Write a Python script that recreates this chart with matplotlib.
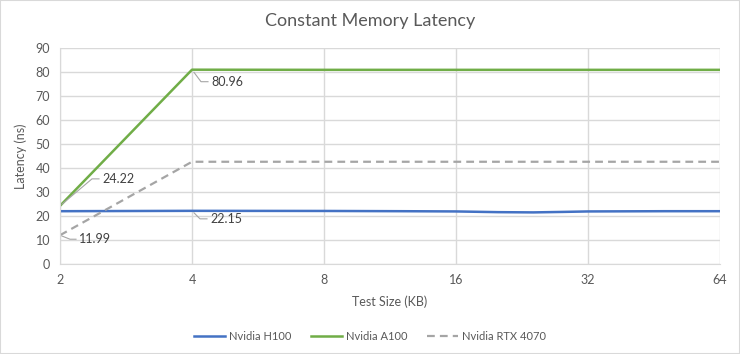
import matplotlib.pyplot as plt
from matplotlib.lines import Line2D
import numpy as np

# data (test size in KB, latency in ns)
sizes = [2, 4, 8, 12, 16, 20, 24, 28, 32, 48, 64]
h100 = [22.0, 22.15, 22.1, 22.0, 21.9, 21.6, 21.5, 21.7, 21.9, 22.0, 22.0]
a100 = [24.22, 80.96, 80.9, 80.9, 80.9, 80.9, 80.9, 80.9, 80.9, 80.9, 80.9]
rtx4070 = [11.99, 42.6, 42.6, 42.6, 42.6, 42.6, 42.6, 42.6, 42.6, 42.6, 42.6]
xticks = [2, 4, 8, 16, 32, 64]

plt.rcParams['font.family'] = ['Lato', 'DejaVu Sans']
grey = '#595959'
W, H = 740, 354

fig = plt.figure(figsize=(W / 100, H / 100), dpi=100)
ax = fig.add_axes([60 / W, 1 - 264 / H, 660 / W, 216 / H])

ax.plot(sizes, h100, color='#4472C4', lw=1.8, label='Nvidia H100')
ax.plot(sizes, a100, color='#70AD47', lw=1.8, label='Nvidia A100')
ax.plot(sizes, rtx4070, color='#A5A5A5', lw=1.6, ls=(0, (3.5, 2.3)), label='Nvidia RTX 4070')

ax.set_xscale('log', base=2)
ax.set_xlim(2, 64)
ax.set_ylim(0, 90)
ax.set_xticks(xticks)
ax.set_xticklabels([str(t) for t in xticks])
ax.set_yticks(np.arange(0, 91, 10))
ax.minorticks_off()
ax.grid(True, color='#D9D9D9', lw=1)
ax.set_axisbelow(True)
for s in ['top', 'right']:
    ax.spines[s].set_visible(False)
for s in ['left', 'bottom']:
    ax.spines[s].set_color('#D9D9D9')
ax.tick_params(length=0, colors=grey, labelsize=9, pad=7)

ax.set_xlabel('Test Size (KB)', color=grey, fontsize=9, labelpad=7)
ax.set_ylabel('Latency (ns)', color=grey, fontsize=9, labelpad=6)
fig.text(0.5, 1 - 21 / H, 'Constant Memory Latency', ha='center', va='center',
         color=grey, fontsize=13)

# data labels with leader lines (offsets in pixels: elbow dx, dy, then horizontal run)
labels = [
    (4, a100[1], '80.96', 9, 12, 7),
    (2, a100[0], '24.22', 32, -27, 7),
    (4, h100[1], '22.15', 8, 8, 7),
    (2, rtx4070[0], '11.99', 10, 4, 6),
]
for x, y, txt, dx, dy, run in labels:
    px, py = ax.transData.transform((x, y))
    xs = [px + 2 * np.sign(dx), px + dx, px + dx + run]
    ys = [py - 2 * np.sign(dy) * abs(dy) / abs(dx), py - dy, py - dy]
    fig.add_artist(Line2D(np.array(xs) / W, np.array(ys) / H, transform=fig.transFigure,
                          color='#A6A6A6', lw=0.8))
    fig.text((px + dx + run + 3) / W, (py - dy) / H, txt, fontsize=9, color='#404040',
             va='center', ha='left')

fig.legend(loc='center', bbox_to_anchor=(0.5, 1 - 336 / H), ncol=3, frameon=False,
           fontsize=8, labelcolor=grey, handlelength=2.8, columnspacing=1.7,
           handletextpad=0.4)

fig.patches.append(plt.Rectangle((0, 0), 1, 1, transform=fig.transFigure,
                                 fill=False, edgecolor='#D9D9D9', lw=1.5))

fig.savefig('out.png', dpi=100)
